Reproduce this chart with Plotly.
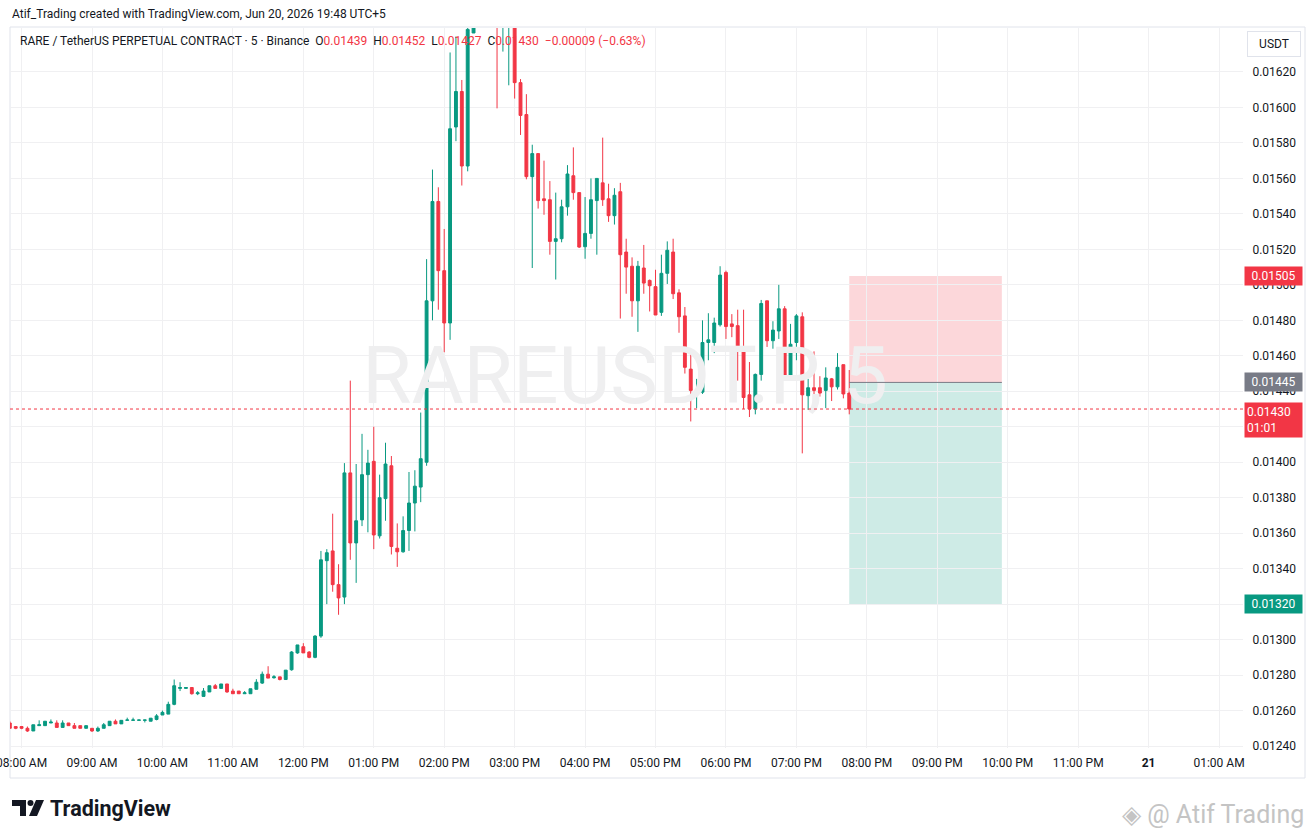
import plotly.graph_objects as go
import pandas as pd

# ---------------- data (prices in units of 0.00001 USDT) ----------------
start_time = "2026-06-20 07:50"
open_e5 = [1253, 1251, 1251, 1250, 1248.5, 1251.5, 1251.5, 1253, 1253, 1250.5,
           1253, 1251.5, 1251.5, 1250, 1250, 1248.5, 1250, 1251.5, 1254, 1252.5,
           1254.5, 1254.5, 1254.5, 1254.5, 1254, 1255, 1257.5, 1258, 1263.5, 1272.5,
           1272.5, 1273, 1269.5, 1268, 1270.5, 1274, 1272.5, 1275, 1271, 1271,
           1269.5, 1269.5, 1272, 1275.5, 1280.5, 1278.5, 1279, 1277.5, 1283, 1292.5,
           1296, 1293, 1290, 1302, 1344.5, 1350, 1331, 1324, 1394, 1354.5,
           1367.5, 1393, 1400.5, 1358.5, 1379.5, 1398, 1351.5, 1349.5, 1361.5, 1377,
           1386, 1400, 1491, 1547, 1508, 1478.5, 1589, 1609, 1567, 1642,
           1660, 1675, 1668, 1680, 1655, 1668, 1672, 1614, 1596, 1561,
           1574, 1548.5, 1548, 1524.5, 1526, 1544, 1561.5, 1552, 1521.5, 1529,
           1547.5, 1557.5, 1548.5, 1539, 1552.5, 1518.5, 1510.5, 1491, 1509.5, 1502.5,
           1499, 1484.5, 1506.5, 1518.5, 1495.5, 1482.5, 1452.5, 1439.5, 1439.5, 1467.5,
           1467.5, 1477.5, 1507, 1478, 1477, 1462.5, 1438, 1430, 1449.5, 1491,
           1468.5, 1474, 1486.5, 1448.5, 1467.5, 1482, 1437.5, 1442, 1442, 1440.5,
           1447, 1442.5, 1455, 1439]
high_e5 = [1254, 1251, 1251, 1251, 1252, 1254.5, 1254, 1255, 1254.5, 1254.5,
           1253, 1253, 1251.5, 1251.5, 1250, 1251, 1253, 1254, 1255, 1254.5,
           1256, 1256, 1254.7, 1254.7, 1255.7, 1258, 1260, 1265, 1277.5, 1276,
           1273, 1273, 1271, 1272.7, 1274, 1275, 1275, 1275, 1272.3, 1271,
           1271, 1272.3, 1277.7, 1282, 1285, 1280, 1279, 1282.8, 1293.5, 1297,
           1298, 1293.5, 1302.5, 1350, 1351, 1371, 1342.5, 1399.5, 1446, 1399,
           1416, 1407, 1420, 1393, 1411, 1403.5, 1365.5, 1369.5, 1394.5, 1395.5,
           1428, 1514.5, 1565, 1555, 1531.5, 1631, 1640, 1615.5, 1650, 1668,
           1690, 1695, 1688, 1684, 1675, 1682, 1676, 1616, 1607.5, 1579,
           1574, 1570, 1558.5, 1552, 1548, 1567.5, 1577.5, 1552, 1549.5, 1560,
           1560, 1583, 1557, 1554.5, 1557.5, 1526, 1515.5, 1513.5, 1522.5, 1503,
           1508.5, 1517, 1524.5, 1526, 1497.5, 1487.5, 1461.5, 1447, 1480, 1484,
           1481.5, 1510.5, 1508, 1483.5, 1486, 1486, 1456.5, 1450, 1491.5, 1491,
           1479.5, 1500, 1488, 1478, 1483.5, 1484.5, 1447, 1462.5, 1448.5, 1453.5,
           1447.5, 1461.5, 1455, 1452]
low_e5 = [1250, 1249.5, 1249.5, 1248, 1248.5, 1251.5, 1251.5, 1253, 1250.5, 1250.5,
          1251.5, 1250, 1250, 1250, 1248, 1248, 1250, 1251.5, 1252.5, 1252.5,
          1254.5, 1254.5, 1254.5, 1253.3, 1254, 1254.5, 1257.5, 1258, 1263, 1271,
          1272.5, 1269, 1268.7, 1268, 1270.5, 1272.5, 1272.5, 1270, 1269.5, 1269.5,
          1269.5, 1269.5, 1272, 1275, 1278.3, 1278, 1277, 1277.5, 1282.5, 1292,
          1292.5, 1289.5, 1289.5, 1301, 1320, 1327, 1314, 1320, 1345, 1332,
          1364, 1360.5, 1351, 1357, 1367, 1348, 1341, 1349, 1350, 1361,
          1377.5, 1398, 1480, 1486, 1462, 1469, 1581, 1556, 1564, 1642,
          1652, 1655, 1660, 1599.5, 1631.5, 1612.5, 1605, 1584.5, 1559.5, 1509.5,
          1543, 1539.5, 1517, 1503, 1524, 1539, 1548, 1520.8, 1514.7, 1526,
          1517, 1544.5, 1535.5, 1534, 1481, 1495, 1482, 1473.5, 1495, 1485,
          1483, 1482.5, 1500.5, 1492, 1473, 1450, 1423, 1430.5, 1438.5, 1457.5,
          1461.5, 1476.5, 1469.5, 1470.5, 1446, 1430, 1425.5, 1427, 1446, 1465,
          1464, 1469.5, 1447.5, 1447.5, 1457.5, 1405, 1429.5, 1434.5, 1437, 1430.5,
          1434.5, 1441, 1436, 1427]
close_e5 = [1250, 1250, 1250, 1248.5, 1252, 1252, 1254, 1253.5, 1250.5, 1253,
            1251.5, 1250, 1250, 1251.5, 1248.5, 1250, 1252, 1254, 1252.5, 1254.5,
            1254.7, 1254.7, 1254.7, 1254.7, 1255.7, 1257, 1259, 1263.5, 1274, 1273,
            1273, 1269.5, 1270, 1271, 1274, 1272.5, 1275, 1270.5, 1269.5, 1269.5,
            1270, 1272.3, 1276, 1280.5, 1278.3, 1279, 1277.5, 1282.8, 1293, 1297,
            1292.5, 1290, 1302, 1345, 1349, 1331, 1323.5, 1394, 1354.5, 1367,
            1393, 1399.5, 1359, 1380, 1399, 1352.5, 1349.5, 1361.5, 1377, 1386.5,
            1402, 1491, 1547, 1508, 1478.5, 1588, 1609, 1567, 1644, 1660,
            1675, 1668, 1680, 1655, 1668, 1672, 1614, 1595.5, 1561, 1574,
            1547.5, 1547.5, 1524.5, 1526, 1544, 1562.5, 1552, 1521.3, 1529, 1548,
            1560, 1548, 1539, 1550.5, 1517, 1510, 1491, 1510.5, 1501, 1499.5,
            1483, 1506.5, 1519.5, 1495, 1482, 1453.5, 1440.5, 1440, 1467.5, 1469,
            1478.5, 1505.5, 1476.5, 1476.5, 1462.5, 1436.5, 1430, 1449.5, 1489.5, 1468.5,
            1474.5, 1486.5, 1448.5, 1466.5, 1482.5, 1438, 1442, 1440.5, 1439, 1447.5,
            1442.5, 1453.5, 1438.5, 1430]

tick_times = ["2026-06-20 08:00", "2026-06-20 09:00", "2026-06-20 10:00", "2026-06-20 11:00",
              "2026-06-20 12:00", "2026-06-20 13:00", "2026-06-20 14:00", "2026-06-20 15:00",
              "2026-06-20 16:00", "2026-06-20 17:00", "2026-06-20 18:00", "2026-06-20 19:00",
              "2026-06-20 20:00", "2026-06-20 21:00", "2026-06-20 22:00", "2026-06-20 23:00",
              "2026-06-21 00:00", "2026-06-21 01:00"]
tick_labels = ["08:00 AM", "09:00 AM", "10:00 AM", "11:00 AM", "12:00 PM", "01:00 PM",
               "02:00 PM", "03:00 PM", "04:00 PM", "05:00 PM", "06:00 PM", "07:00 PM",
               "08:00 PM", "09:00 PM", "10:00 PM", "11:00 PM", "<b>21</b>", "01:00 AM"]
price_ticks = [0.01240, 0.01260, 0.01280, 0.01300, 0.01320, 0.01340, 0.01360, 0.01380,
               0.01400, 0.01420, 0.01440, 0.01460, 0.01480, 0.01500, 0.01520, 0.01540,
               0.01560, 0.01580, 0.01600, 0.01620]

# position tool (short)
position_start = "2026-06-20 19:45"
position_end = "2026-06-20 21:55"
entry_price = 0.01445
stop_price = 0.01505
target_price = 0.01320
last_price = 0.01430

x_range = ["2026-06-20 07:50:09", "2026-06-21 01:20:24"]
y_range = [0.012389, 0.016448]

# ---------------- styling ----------------
UP = "#089981"
DOWN = "#F23645"
TEXT = "#131722"
GRID = "#F0F0F2"
FONT = "Roboto"

times = pd.date_range(start_time, periods=len(open_e5), freq="5min")
o = [v / 1e5 for v in open_e5]
h = [v / 1e5 for v in high_e5]
l = [v / 1e5 for v in low_e5]
c = [v / 1e5 for v in close_e5]

# plot-area pixel geometry helpers (for paper-anchored decorations)
PL, PR, PT, PB = 10, 1243, 28, 748
def PX(x):
    return (x - PL) / (PR - PL)
def PY(y):
    return (PB - y) / (PB - PT)

fig = go.Figure()

# watermark (drawn first so candles sit on top)
fig.add_trace(go.Scatter(
    x=[pd.Timestamp("2026-06-20 16:34")], y=[0.014446], mode="text",
    text=["RAREUSDT.P, 5"], textposition="middle center",
    textfont=dict(family=FONT, size=80, color="#EFEFF0"),
    hoverinfo="skip", showlegend=False))

fig.add_trace(go.Candlestick(
    x=times, open=o, high=h, low=l, close=c,
    increasing=dict(line=dict(color=UP, width=1), fillcolor=UP),
    decreasing=dict(line=dict(color=DOWN, width=1), fillcolor=DOWN),
    whiskerwidth=0, showlegend=False))

shapes = [
    # stop-loss zone
    dict(type="rect", xref="x", yref="y", x0=position_start, x1=position_end,
         y0=entry_price, y1=stop_price, fillcolor="rgba(242,54,69,0.2)",
         line=dict(width=0), layer="below"),
    # target zone
    dict(type="rect", xref="x", yref="y", x0=position_start, x1=position_end,
         y0=target_price, y1=entry_price, fillcolor="rgba(8,153,129,0.2)",
         line=dict(width=0), layer="below"),
    # entry line
    dict(type="line", xref="x", yref="y", x0=position_start, x1=position_end,
         y0=entry_price, y1=entry_price, line=dict(color="#787B86", width=1)),
    # last price line
    dict(type="line", xref="paper", yref="y", x0=0, x1=1, y0=last_price, y1=last_price,
         line=dict(color=DOWN, width=1, dash="dot")),
    # outer frame
    dict(type="rect", xref="paper", yref="paper", x0=PX(10), x1=PX(1305),
         y0=PY(778), y1=PY(27), line=dict(color="#E0E3EB", width=1), layer="below"),
    # TradingView logo
    dict(type="path", xref="paper", yref="paper",
         path=f"M{PX(12)},{PY(800)} L{PX(26)},{PY(800)} L{PX(26)},{PY(816)} L{PX(20)},{PY(816)} "
              f"L{PX(20)},{PY(806)} L{PX(12)},{PY(806)} Z",
         fillcolor=TEXT, line=dict(width=0)),
    dict(type="circle", xref="paper", yref="paper", x0=PX(27.5), x1=PX(33.5),
         y0=PY(806), y1=PY(800), fillcolor=TEXT, line=dict(width=0)),
    dict(type="path", xref="paper", yref="paper",
         path=f"M{PX(36)},{PY(800)} L{PX(44)},{PY(800)} L{PX(37)},{PY(816)} L{PX(29)},{PY(816)} Z",
         fillcolor=TEXT, line=dict(width=0)),
]

red_span = '<span style="color:#F23645">'
legend_text = ("RARE / TetherUS PERPETUAL CONTRACT · 5 · Binance\u00a0\u00a0"
               f"O{red_span}0.01439</span>\u00a0\u00a0H{red_span}0.01452</span>\u00a0\u00a0"
               f"L{red_span}0.01427</span>\u00a0\u00a0C{red_span}0.01430</span>\u00a0\u00a0"
               f"{red_span}−0.00009 (−0.63%)</span>")

annotations = [
    dict(xref="paper", yref="paper", x=PX(10), y=PY(14), xanchor="left", yanchor="middle",
         text="Atif_Trading created with TradingView.com, Jun 20, 2026 19:48 UTC+5",
         showarrow=False, font=dict(family=FONT, size=12, color=TEXT)),
    dict(xref="paper", yref="paper", x=PX(18), y=PY(41), xanchor="left", yanchor="middle",
         text=legend_text, showarrow=False, font=dict(family=FONT, size=12, color=TEXT)),
    dict(xref="paper", yref="paper", x=PX(1274), y=PY(44), xanchor="center", yanchor="middle",
         text="USDT", showarrow=False, font=dict(family=FONT, size=12, color=TEXT),
         bordercolor="#E0E3EB", borderwidth=1, borderpad=5, bgcolor="white", width=42),
    # first (partly cut) time label at the left edge
    dict(xref="x", yref="paper", x=tick_times[0], y=PY(763), xanchor="center", yanchor="middle",
         text=tick_labels[0], showarrow=False, font=dict(family=FONT, size=12, color=TEXT)),
    # price tags
    dict(xref="paper", yref="y", x=PX(1244), y=stop_price, xanchor="left", yanchor="middle",
         text="0.01505", showarrow=False, font=dict(family=FONT, size=12, color="white"),
         bgcolor=DOWN, borderpad=2, width=53),
    dict(xref="paper", yref="y", x=PX(1244), y=entry_price, xanchor="left", yanchor="middle",
         text="0.01445", showarrow=False, font=dict(family=FONT, size=12, color="white"),
         bgcolor="#787B86", borderpad=2, width=53),
    dict(xref="paper", yref="paper", x=PX(1244), y=PY(402), xanchor="left", yanchor="top",
         text="0.01430<br>01:01", showarrow=False, align="left",
         font=dict(family=FONT, size=12, color="white"), bgcolor=DOWN, borderpad=2, width=53),
    dict(xref="paper", yref="y", x=PX(1244), y=target_price, xanchor="left", yanchor="middle",
         text="0.01320", showarrow=False, font=dict(family=FONT, size=12, color="white"),
         bgcolor=UP, borderpad=2, width=53),
    # footer
    dict(xref="paper", yref="paper", x=PX(48), y=PY(808), xanchor="left", yanchor="middle",
         text="<b>TradingView</b>", showarrow=False, font=dict(family=FONT, size=21.5, color=TEXT)),
    dict(xref="paper", yref="paper", x=PX(1306), y=PY(815), xanchor="right", yanchor="middle",
         text="◈ @ Atif Trading", showarrow=False, font=dict(family=FONT, size=25, color="#C4C4C4")),
]

axis_ticktext = [""] + tick_labels[1:]

fig.update_layout(
    width=1315, height=838,
    margin=dict(l=PL, r=1315 - PR, t=PT, b=838 - PB),
    paper_bgcolor="white", plot_bgcolor="white",
    font=dict(family=FONT, size=12, color=TEXT),
    showlegend=False, hovermode=False,
    shapes=shapes, annotations=annotations,
    xaxis=dict(type="date", range=x_range, rangeslider=dict(visible=False),
               tickvals=tick_times, ticktext=axis_ticktext, showgrid=True, gridcolor=GRID,
               gridwidth=1, zeroline=False, showline=False, ticks="outside", ticklen=4,
               tickcolor="rgba(0,0,0,0)", automargin=False,
               tickfont=dict(family=FONT, size=12, color=TEXT)),
    yaxis=dict(side="right", range=y_range, tickvals=price_ticks, tickformat=".5f",
               showgrid=True, gridcolor=GRID, gridwidth=1, zeroline=False, showline=False,
               ticks="outside", ticklen=6, tickcolor="rgba(0,0,0,0)", automargin=False,
               tickfont=dict(family=FONT, size=12, color=TEXT)),
)

fig.write_html("out.html", config={"displayModeBar": False},
               post_script="document.body.style.margin='0px';document.body.style.overflow='hidden';")
